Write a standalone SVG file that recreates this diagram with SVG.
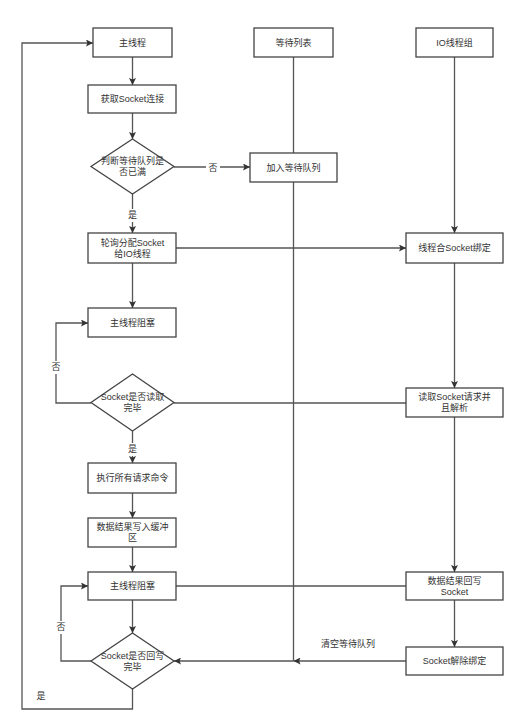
<svg xmlns="http://www.w3.org/2000/svg" width="525" height="726" viewBox="0 0 525 726">
<style>
.box{fill:#fff;stroke:#444;stroke-width:1.3}
.ln{fill:none;stroke:#555;stroke-width:1.3}
.t{font-family:"Liberation Sans","Noto Sans CJK SC",sans-serif;font-size:9px;fill:#333;text-anchor:middle;dominant-baseline:central}
.lb{fill:#fff}
</style>
<defs>
<marker id="a" viewBox="0 0 10 10" refX="10" refY="5" markerWidth="7" markerHeight="7" markerUnits="userSpaceOnUse" orient="auto"><path d="M0,0 L10,5 L0,10 L2,5 z" fill="#333"/></marker>
</defs>
<rect width="525" height="726" fill="#fff"/>
<g id="connectors">
<line class="ln" x1="132.5" y1="57" x2="132.5" y2="85" marker-end="url(#a)"/>
<line class="ln" x1="132.5" y1="113" x2="132.5" y2="139" marker-end="url(#a)"/>
<line class="ln" x1="174" y1="167" x2="250" y2="167" marker-end="url(#a)"/>
<line class="ln" x1="132.5" y1="194" x2="132.5" y2="233" marker-end="url(#a)"/>
<line class="ln" x1="176" y1="248" x2="406" y2="248" marker-end="url(#a)"/>
<line class="ln" x1="132.5" y1="263" x2="132.5" y2="308" marker-end="url(#a)"/>
<polyline class="ln" points="91,403 56,403 56,323 88,323" marker-end="url(#a)"/>
<line class="ln" x1="174" y1="403" x2="406" y2="403"/>
<line class="ln" x1="132.5" y1="431" x2="132.5" y2="463" marker-end="url(#a)"/>
<line class="ln" x1="132.5" y1="493" x2="132.5" y2="518" marker-end="url(#a)"/>
<line class="ln" x1="132.5" y1="547" x2="132.5" y2="572" marker-end="url(#a)"/>
<line class="ln" x1="132.5" y1="600" x2="132.5" y2="633" marker-end="url(#a)"/>
<polyline class="ln" points="91,661 61,661 61,586 88,586" marker-end="url(#a)"/>
<line class="ln" x1="176" y1="586" x2="406" y2="586"/>
<polyline class="ln" points="132.5,689 132.5,709 22,709 22,43 93,43" marker-end="url(#a)"/>
<line class="ln" x1="293.5" y1="57" x2="293.5" y2="153"/>
<line class="ln" x1="293.5" y1="182" x2="293.5" y2="661"/>
<line class="ln" x1="454.5" y1="57" x2="454.5" y2="233" marker-end="url(#a)"/>
<line class="ln" x1="454.5" y1="263" x2="454.5" y2="388" marker-end="url(#a)"/>
<line class="ln" x1="454.5" y1="417" x2="454.5" y2="572" marker-end="url(#a)"/>
<line class="ln" x1="454.5" y1="600" x2="454.5" y2="647" marker-end="url(#a)"/>
<line class="ln" x1="406" y1="661" x2="293.5" y2="661" marker-end="url(#a)"/>
<line class="ln" x1="293.5" y1="661" x2="174" y2="661" marker-end="url(#a)"/>
<rect class="lb" x="206" y="161" width="14" height="13"/>
<text class="t" x="213" y="168">否</text>
<rect class="lb" x="126" y="209" width="13" height="13"/>
<text class="t" x="132.5" y="215">是</text>
<rect class="lb" x="50" y="361" width="13" height="13"/>
<text class="t" x="56" y="367">否</text>
<rect class="lb" x="126" y="443" width="13" height="13"/>
<text class="t" x="132.5" y="449">是</text>
<rect class="lb" x="55" y="621" width="13" height="13"/>
<text class="t" x="61" y="627">否</text>
<text class="t" x="41" y="696">是</text>
<text class="t" x="348" y="644">清空等待队列</text>
</g>
<g id="n1"><rect class="box" x="93" y="28" width="79" height="29"/><text class="t" x="132.5" y="42.5">主线程</text></g>
<g id="n2"><rect class="box" x="254" y="28" width="79" height="29"/><text class="t" x="293.5" y="42.5">等待列表</text></g>
<g id="n3"><rect class="box" x="416" y="28" width="77" height="29"/><text class="t" x="454.5" y="42.5">IO线程组</text></g>
<g id="n4"><rect class="box" x="88" y="85" width="88" height="28"/><text class="t" x="132.5" y="99">获取Socket连接</text></g>
<g id="n5"><polygon class="box" points="132.5,139 174,166.5 132.5,194 91,166.5"/><text class="t"><tspan x="132.5" y="161">判断等待队列是</tspan><tspan x="132.5" y="172">否已满</tspan></text></g>
<g id="n6"><rect class="box" x="250" y="153" width="87" height="29"/><text class="t" x="293.5" y="167.5">加入等待队列</text></g>
<g id="n7"><rect class="box" x="88" y="233" width="88" height="30"/><text class="t"><tspan x="132.5" y="242.5">轮询分配Socket</tspan><tspan x="132.5" y="253.5">给IO线程</tspan></text></g>
<g id="n8"><rect class="box" x="406" y="233" width="97" height="30"/><text class="t" x="454.5" y="248">线程合Socket绑定</text></g>
<g id="n9"><rect class="box" x="88" y="308" width="88" height="29"/><text class="t" x="132.5" y="322.5">主线程阻塞</text></g>
<g id="n10"><polygon class="box" points="132.5,374 174,402.5 132.5,431 91,402.5"/><text class="t"><tspan x="132.5" y="397">Socket是否读取</tspan><tspan x="132.5" y="408">完毕</tspan></text></g>
<g id="n11"><rect class="box" x="406" y="388" width="97" height="29"/><text class="t"><tspan x="454.5" y="397">读取Socket请求并</tspan><tspan x="454.5" y="408">且解析</tspan></text></g>
<g id="n12"><rect class="box" x="88" y="463" width="88" height="30"/><text class="t" x="132.5" y="478">执行所有请求命令</text></g>
<g id="n13"><rect class="box" x="88" y="518" width="88" height="29"/><text class="t"><tspan x="132.5" y="527">数据结果写入缓冲</tspan><tspan x="132.5" y="538">区</tspan></text></g>
<g id="n14"><rect class="box" x="88" y="572" width="88" height="28"/><text class="t" x="132.5" y="586">主线程阻塞</text></g>
<g id="n15"><rect class="box" x="406" y="572" width="97" height="28"/><text class="t"><tspan x="454.5" y="580.5">数据结果回写</tspan><tspan x="454.5" y="591.5">Socket</tspan></text></g>
<g id="n16"><polygon class="box" points="132.5,633 174,661 132.5,689 91,661"/><text class="t"><tspan x="132.5" y="655.5">Socket是否回写</tspan><tspan x="132.5" y="666.5">完毕</tspan></text></g>
<g id="n17"><rect class="box" x="406" y="647" width="97" height="28"/><text class="t" x="454.5" y="661">Socket解除绑定</text></g>
</svg>
